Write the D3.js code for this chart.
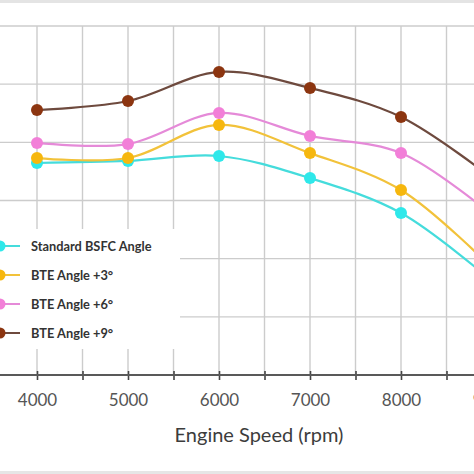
<!DOCTYPE html>
<html>
<head>
<meta charset="utf-8">
<script src="https://cdn.jsdelivr.net/npm/d3@7/dist/d3.min.js"></script>
<style>
  html, body { margin: 0; padding: 0; background: #fff; }
  svg { display: block; }
</style>
</head>
<body>
<svg id="chart" width="474" height="474"></svg>
<script>
// ---- data ----
const speeds = [4000, 5000, 6000, 7000, 8000, 9000];
const xTicks = [3500, 4000, 4500, 5000, 5500, 6000, 6500, 7000, 7500, 8000, 8500, 9000];
const xTickLabels = ["4000", "5000", "6000", "7000", "8000", "9000"];
const yGrid = [20, 22, 24, 26, 28, 30, 32];
const seriesNames = ["Standard BSFC Angle", "BTE Angle +3°", "BTE Angle +6°", "BTE Angle +9°"];
const standardBSFC = [27.29, 27.36, 27.53, 26.77, 25.57, 23.23];
const bte3 = [27.46, 27.46, 28.60, 27.63, 26.36, 23.68];
const bte6 = [27.98, 27.94, 29.01, 28.22, 27.63, 25.50];
const bte9 = [29.11, 29.42, 30.42, 29.87, 28.87, 26.77];

const seriesValues = [standardBSFC, bte3, bte6, bte9];
const lineColors = ["#45dcdc", "#f2c23a", "#e58ad8", "#6e4a3e"];
const markerColors = ["#2ee8ea", "#f6b70e", "#f27fd8", "#8c3510"];

const W = 474, H = 474;
const svg = d3.select("#chart");

// background frame bars
svg.append("rect").attr("x", 0).attr("y", 0).attr("width", W).attr("height", 3).attr("fill", "#e4e4e4");
svg.append("rect").attr("x", 0).attr("y", 471).attr("width", W).attr("height", 3).attr("fill", "#e6e6e6");

const x = d3.scaleLinear().domain([4000, 9000]).range([37, 492]);
const y = d3.scaleLinear().domain([20, 32]).range([375, 26]);

// grid
const grid = svg.append("g");
grid.selectAll("line.h").data(yGrid.filter(v => v > 20)).join("line")
  .attr("class", "h")
  .attr("x1", 0).attr("x2", W)
  .attr("y1", d => y(d)).attr("y2", d => y(d))
  .attr("stroke", "#cccccc").attr("stroke-width", 1.4);
grid.selectAll("line.v").data(xTicks.filter(v => v >= 4000)).join("line")
  .attr("class", "v")
  .attr("x1", d => x(d)).attr("x2", d => x(d))
  .attr("y1", y(32)).attr("y2", y(20))
  .attr("stroke", "#cccccc").attr("stroke-width", 1.4);

// legend box (covers grid)
svg.append("rect").attr("x", 0).attr("y", 229).attr("width", 180).attr("height", 120).attr("fill", "#fff");

// x axis
const xAxis = d3.axisBottom(x)
  .tickValues(xTicks)
  .tickSizeInner(5)
  .tickSizeOuter(0)
  .tickFormat(d => (d % 1000 === 0 ? xTickLabels[speeds.indexOf(d)] || "" : ""));
const ax = svg.append("g").attr("transform", `translate(0,${y(20)})`).call(xAxis);
ax.select(".domain").remove();
ax.append("line").attr("x1", 0).attr("x2", W).attr("y1", 0).attr("y2", 0)
  .attr("stroke", "#595959").attr("stroke-width", 2.2);
ax.selectAll(".tick line").attr("y1", -4).attr("y2", 5).attr("stroke", "#444").attr("stroke-width", 1.6);
ax.selectAll(".tick text")
  .attr("y", 31).attr("dy", 0)
  .attr("fill", "#555")
  .style("font-family", "Lato, 'Open Sans', sans-serif")
  .style("font-size", "17px");

// axis title
svg.append("text")
  .attr("x", 259).attr("y", 442)
  .attr("text-anchor", "middle")
  .attr("fill", "#3c3c3c")
  .style("font-family", "Lato, 'Open Sans', sans-serif")
  .style("font-size", "20px")
  .text("Engine Speed (rpm)");

// lines
const lineGen = d3.line()
  .x((d, i) => x(speeds[i]))
  .y(d => y(d))
  .curve(d3.curveCatmullRom.alpha(0.5));

seriesValues.forEach((vals, k) => {
  svg.append("path")
    .attr("d", lineGen(vals))
    .attr("fill", "none")
    .attr("stroke", lineColors[k])
    .attr("stroke-width", 2.2);
});
seriesValues.forEach((vals, k) => {
  svg.append("g").selectAll("circle").data(vals).join("circle")
    .attr("cx", (d, i) => x(speeds[i]))
    .attr("cy", d => y(d))
    .attr("r", 6)
    .attr("fill", markerColors[k]);
});

// legend
const legendY = [246, 275, 304, 333];
const lg = svg.append("g");
seriesNames.forEach((name, k) => {
  lg.append("line").attr("x1", 0).attr("x2", 20)
    .attr("y1", legendY[k]).attr("y2", legendY[k])
    .attr("stroke", lineColors[k]).attr("stroke-width", 2);
  lg.append("circle").attr("cx", 0).attr("cy", legendY[k]).attr("r", 5.5)
    .attr("fill", markerColors[k]);
  lg.append("text").attr("x", 31).attr("y", legendY[k] + 4.5)
    .attr("fill", "#333")
    .style("font-family", "Lato, 'Open Sans', sans-serif")
    .style("font-size", "12.8px")
    .style("font-weight", "bold")
    .text(name);
});
</script>
</body>
</html>
